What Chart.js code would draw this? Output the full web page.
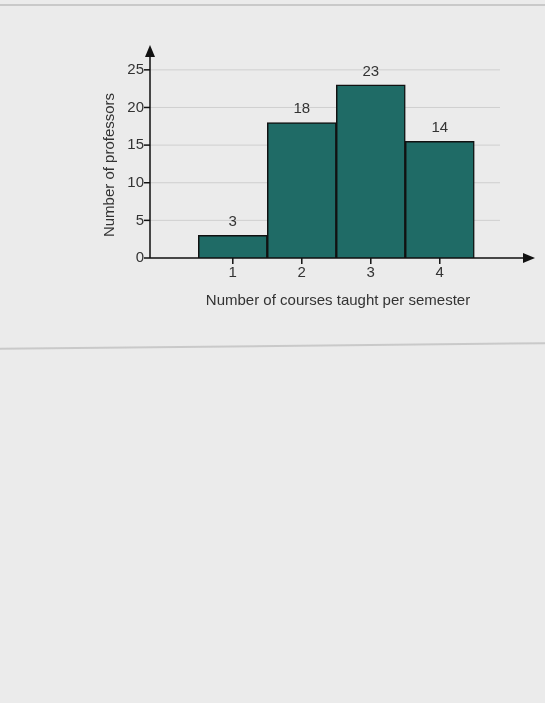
<!DOCTYPE html>
<html><head><script src="https://cdn.jsdelivr.net/npm/chart.js"></script>
<style>body{margin:0;background:#ebebeb;}#w{position:relative;width:545px;height:703px;}
.sep{position:absolute;left:0;width:545px;height:2px;background:#c9c9c9;}
canvas{position:absolute;left:0;top:0;}</style></head><body>
<div id="w"><div class="sep" style="top:4px"></div><div class="sep" style="top:345px;transform:rotate(-0.6deg)"></div><canvas id="c" width="545" height="703"></canvas></div>
<script>
const categories=[1,2,3,4];
const counts=[3,18,23,14];
const drawnHeights=[3,18,23,15.5];
const yTicks=[0,5,10,15,20,25];
const F='"Liberation Sans", Arial, sans-serif';
const deco={id:'deco',
beforeDatasetsDraw(ch){const {ctx,chartArea:a,scales:{x,y}}=ch;ctx.save();ctx.strokeStyle='#cfcfcf';ctx.lineWidth=1;
 yTicks.forEach(t=>{if(t===0)return;const p=y.getPixelForValue(t);ctx.beginPath();ctx.moveTo(a.left,p);ctx.lineTo(500,p);ctx.stroke();});ctx.restore();},
afterDatasetsDraw(ch){const {ctx,chartArea:a,scales:{x,y}}=ch;ctx.save();ctx.strokeStyle='#111';ctx.fillStyle='#111';ctx.lineWidth=1.5;
 const y0=y.getPixelForValue(0);
 ctx.beginPath();ctx.moveTo(a.left,y0);ctx.lineTo(a.right-4,y0);ctx.moveTo(a.left,y0);ctx.lineTo(a.left,a.top+4);ctx.stroke();
 ctx.beginPath();ctx.moveTo(a.right,y0);ctx.lineTo(a.right-12,y0-5);ctx.lineTo(a.right-12,y0+5);ctx.fill();
 ctx.beginPath();ctx.moveTo(a.left,a.top);ctx.lineTo(a.left-5,a.top+12);ctx.lineTo(a.left+5,a.top+12);ctx.fill();
 ctx.font='15px '+F;ctx.fillStyle='#333';ctx.textAlign='right';ctx.textBaseline='middle';
 yTicks.forEach(t=>{const p=y.getPixelForValue(t);ctx.fillText(String(t),a.left-6,p);ctx.beginPath();ctx.moveTo(a.left-6,p);ctx.lineTo(a.left,p);ctx.stroke();});
 ctx.textAlign='center';ctx.textBaseline='top';
 categories.forEach(c=>{const p=x.getPixelForValue(c);ctx.beginPath();ctx.moveTo(p,y0);ctx.lineTo(p,y0+6);ctx.stroke();ctx.fillText(String(c),p,y0+7);});
 ctx.textBaseline='bottom';
 categories.forEach((c,i)=>{ctx.fillText(String(counts[i]),x.getPixelForValue(c),y.getPixelForValue(drawnHeights[i])-6);});
 ctx.fillText('Number of courses taught per semester',338,308);
 ctx.save();ctx.translate(110,165);ctx.rotate(-Math.PI/2);ctx.textBaseline='middle';ctx.fillText('Number of professors',0,0);ctx.restore();
 ctx.restore();}};
new Chart(document.getElementById('c'),{type:'bar',
data:{datasets:[{data:categories.map((c,i)=>({x:c,y:drawnHeights[i]})),backgroundColor:'#1f6b66',borderColor:'#111',borderWidth:1.5,barPercentage:1,categoryPercentage:1}]},
options:{responsive:false,animation:false,layout:{padding:{left:150,right:10,top:45,bottom:445}},
plugins:{legend:{display:false},tooltip:{enabled:false}},
scales:{x:{type:'linear',min:-0.2,max:5.38,display:false,offset:false},y:{min:0,max:28.3,display:false}}},
plugins:[deco]});
</script></body></html>
